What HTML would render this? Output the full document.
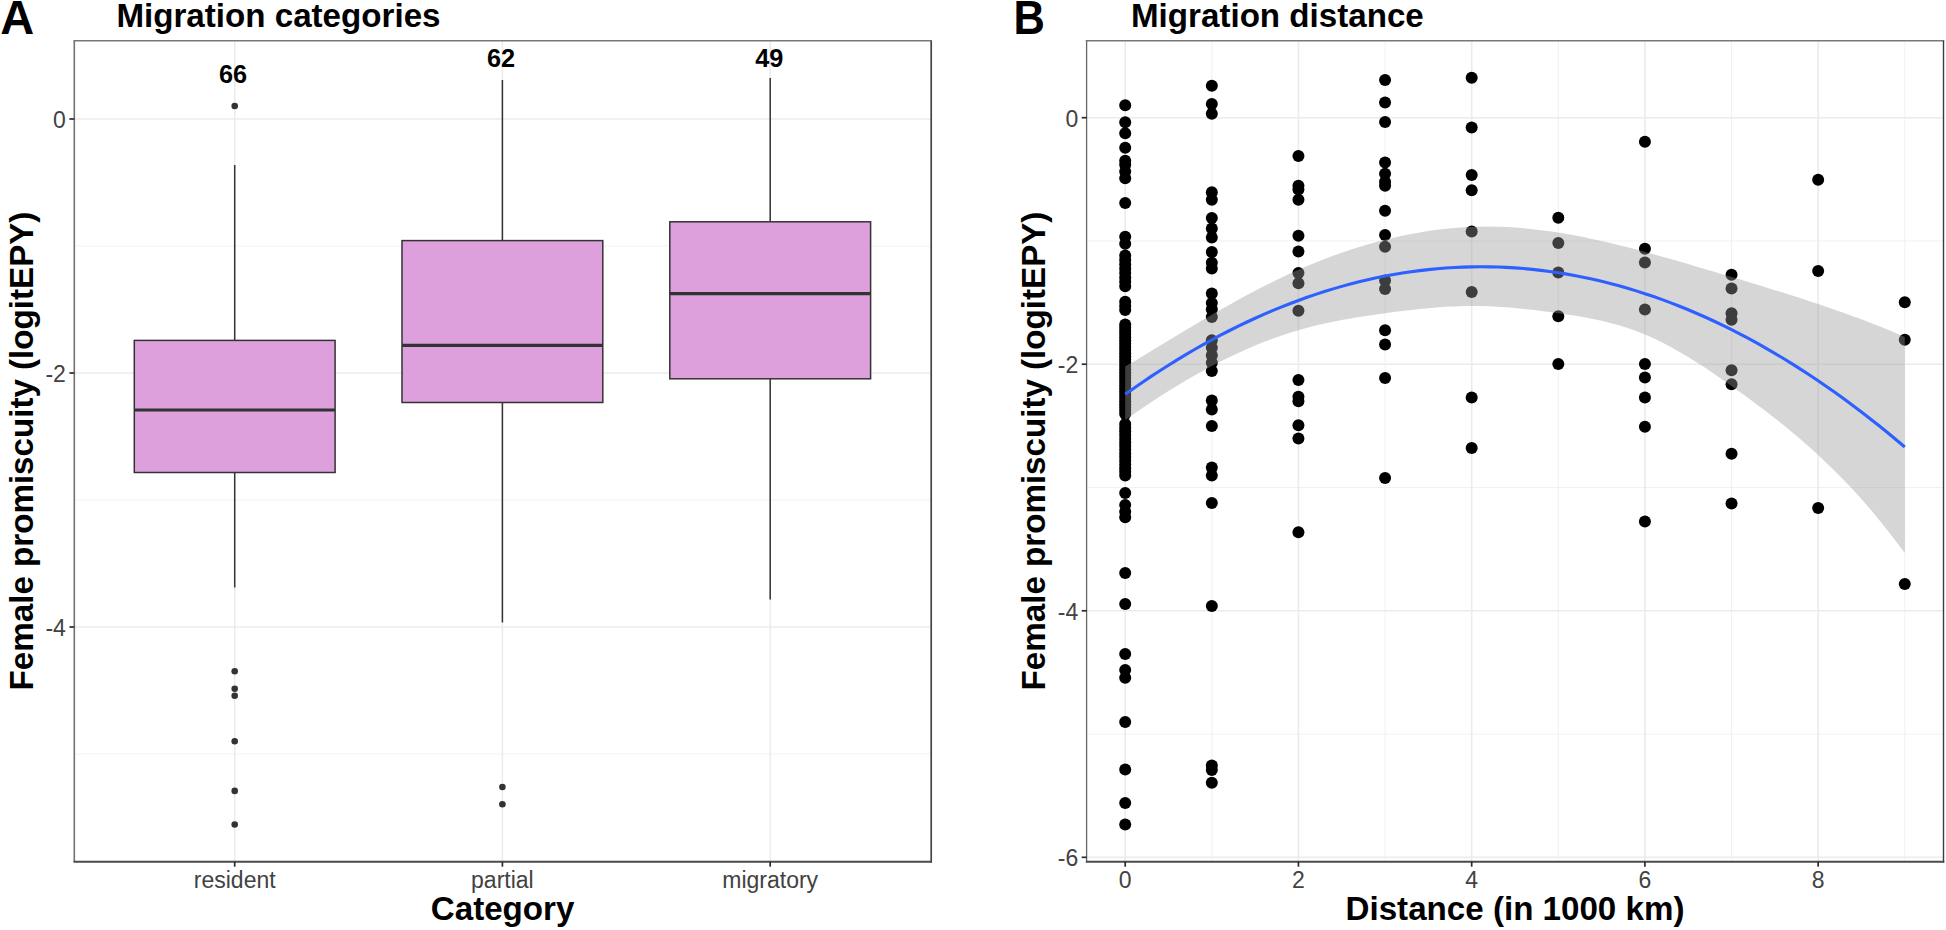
<!DOCTYPE html>
<html lang="en">
<head>
<meta charset="utf-8">
<title>Migration and female promiscuity</title>
<style>
html, body { margin: 0; padding: 0; background: #ffffff; }
body { width: 1946px; height: 930px; overflow: hidden; font-family: "Liberation Sans", sans-serif; }
svg { display: block; }
</style>
</head>
<body>
<svg width="1946" height="930" viewBox="0 0 1946 930" font-family='"Liberation Sans", sans-serif'>
<rect width="1946" height="930" fill="#ffffff"/>
<g id="panelA">
<rect x="74.3" y="40.75" width="856.9" height="821.05" fill="#ffffff"/>
<line x1="74.3" x2="931.2" y1="246" y2="246" stroke="#ebebeb" stroke-width="0.7"/>
<line x1="74.3" x2="931.2" y1="500" y2="500" stroke="#ebebeb" stroke-width="0.7"/>
<line x1="74.3" x2="931.2" y1="754" y2="754" stroke="#ebebeb" stroke-width="0.7"/>
<line x1="74.3" x2="931.2" y1="119" y2="119" stroke="#ebebeb" stroke-width="1.6"/>
<line x1="74.3" x2="931.2" y1="373" y2="373" stroke="#ebebeb" stroke-width="1.6"/>
<line x1="74.3" x2="931.2" y1="627" y2="627" stroke="#ebebeb" stroke-width="1.6"/>
<line x1="234.7" x2="234.7" y1="40.75" y2="861.8" stroke="#ebebeb" stroke-width="1.5"/>
<line x1="502.4" x2="502.4" y1="40.75" y2="861.8" stroke="#ebebeb" stroke-width="1.5"/>
<line x1="770.2" x2="770.2" y1="40.75" y2="861.8" stroke="#ebebeb" stroke-width="1.5"/>
<circle cx="234.7" cy="106" r="3.3" fill="#333333"/>
<circle cx="234.7" cy="671.3" r="3.3" fill="#333333"/>
<circle cx="234.7" cy="688.7" r="3.3" fill="#333333"/>
<circle cx="234.7" cy="695.8" r="3.3" fill="#333333"/>
<circle cx="234.7" cy="741.3" r="3.3" fill="#333333"/>
<circle cx="234.7" cy="790.9" r="3.3" fill="#333333"/>
<circle cx="234.7" cy="824.5" r="3.3" fill="#333333"/>
<line x1="234.7" x2="234.7" y1="165" y2="340.4" stroke="#333333" stroke-width="1.5"/>
<line x1="234.7" x2="234.7" y1="472.5" y2="587.5" stroke="#333333" stroke-width="1.5"/>
<rect x="134.3" y="340.4" width="200.8" height="132.1" fill="#dda0dd" stroke="#333333" stroke-width="1.5" stroke-linejoin="miter"/>
<line x1="134.3" x2="335.1" y1="410" y2="410" stroke="#333333" stroke-width="3.2"/>
<circle cx="502.4" cy="787" r="3.3" fill="#333333"/>
<circle cx="502.4" cy="804.2" r="3.3" fill="#333333"/>
<line x1="502.4" x2="502.4" y1="80" y2="240.6" stroke="#333333" stroke-width="1.5"/>
<line x1="502.4" x2="502.4" y1="402.5" y2="622.5" stroke="#333333" stroke-width="1.5"/>
<rect x="402" y="240.6" width="200.8" height="161.9" fill="#dda0dd" stroke="#333333" stroke-width="1.5" stroke-linejoin="miter"/>
<line x1="402" x2="602.8" y1="345.3" y2="345.3" stroke="#333333" stroke-width="3.2"/>
<line x1="770.2" x2="770.2" y1="78" y2="221.8" stroke="#333333" stroke-width="1.5"/>
<line x1="770.2" x2="770.2" y1="378.8" y2="599.5" stroke="#333333" stroke-width="1.5"/>
<rect x="669.8" y="221.8" width="200.8" height="157" fill="#dda0dd" stroke="#333333" stroke-width="1.5" stroke-linejoin="miter"/>
<line x1="669.8" x2="870.6" y1="293.6" y2="293.6" stroke="#333333" stroke-width="3.2"/>
<text x="233.1" y="83.2" font-size="25.3" font-weight="bold" text-anchor="middle" fill="#000000">66</text>
<text x="501" y="66.6" font-size="25.3" font-weight="bold" text-anchor="middle" fill="#000000">62</text>
<text x="769.2" y="66.6" font-size="25.3" font-weight="bold" text-anchor="middle" fill="#000000">49</text>
<line x1="73.5" x2="932" y1="40.75" y2="40.75" stroke="#787878" stroke-width="1.6"/>
<line x1="74.3" x2="74.3" y1="40.75" y2="861.8" stroke="#727272" stroke-width="1.6"/>
<line x1="931.2" x2="931.2" y1="40.75" y2="862.7" stroke="#454545" stroke-width="1.7"/>
<line x1="73.5" x2="932" y1="861.8" y2="861.8" stroke="#4a4a4a" stroke-width="1.9"/>
</g>
<g id="axesA">
<line x1="69.4" x2="74.3" y1="119" y2="119" stroke="#2b2b2b" stroke-width="1.7"/>
<text x="65.9" y="128.1" font-size="23.0" text-anchor="end" fill="#424242">0</text>
<line x1="69.4" x2="74.3" y1="373" y2="373" stroke="#2b2b2b" stroke-width="1.7"/>
<text x="65.9" y="382.1" font-size="23.0" text-anchor="end" fill="#424242">-2</text>
<line x1="69.4" x2="74.3" y1="627" y2="627" stroke="#2b2b2b" stroke-width="1.7"/>
<text x="65.9" y="636.1" font-size="23.0" text-anchor="end" fill="#424242">-4</text>
<line x1="234.7" x2="234.7" y1="861.8" y2="866.7" stroke="#2b2b2b" stroke-width="1.7"/>
<text x="234.7" y="887.5" font-size="23.0" text-anchor="middle" fill="#424242">resident</text>
<line x1="502.4" x2="502.4" y1="861.8" y2="866.7" stroke="#2b2b2b" stroke-width="1.7"/>
<text x="502.4" y="887.5" font-size="23.0" text-anchor="middle" fill="#424242">partial</text>
<line x1="770.2" x2="770.2" y1="861.8" y2="866.7" stroke="#2b2b2b" stroke-width="1.7"/>
<text x="770.2" y="887.5" font-size="23.0" text-anchor="middle" fill="#424242">migratory</text>
</g>
<text transform="translate(0.2,34.2) scale(1,1.03)" font-size="47" font-weight="bold" fill="#000000">A</text>
<text x="116.4" y="26.8" font-size="33.15" font-weight="bold" fill="#000000">Migration categories</text>
<text x="502.6" y="920" font-size="33.15" font-weight="bold" text-anchor="middle" fill="#000000">Category</text>
<text transform="translate(33,451) rotate(-90)" font-size="33.15" font-weight="bold" text-anchor="middle" fill="#000000">Female promiscuity (logitEPY)</text>
<g id="panelB">
<rect x="1086.6" y="40.75" width="856.9" height="821.05" fill="#ffffff"/>
<line x1="1086.6" x2="1943.5" y1="240.97" y2="240.97" stroke="#ebebeb" stroke-width="0.7"/>
<line x1="1086.6" x2="1943.5" y1="487.51" y2="487.51" stroke="#ebebeb" stroke-width="0.7"/>
<line x1="1086.6" x2="1943.5" y1="734.05" y2="734.05" stroke="#ebebeb" stroke-width="0.7"/>
<line x1="1211.82" x2="1211.82" y1="40.75" y2="861.8" stroke="#ebebeb" stroke-width="0.7"/>
<line x1="1385.06" x2="1385.06" y1="40.75" y2="861.8" stroke="#ebebeb" stroke-width="0.7"/>
<line x1="1558.3" x2="1558.3" y1="40.75" y2="861.8" stroke="#ebebeb" stroke-width="0.7"/>
<line x1="1731.54" x2="1731.54" y1="40.75" y2="861.8" stroke="#ebebeb" stroke-width="0.7"/>
<line x1="1904.78" x2="1904.78" y1="40.75" y2="861.8" stroke="#ebebeb" stroke-width="0.7"/>
<line x1="1086.6" x2="1943.5" y1="117.7" y2="117.7" stroke="#ebebeb" stroke-width="1.6"/>
<line x1="1086.6" x2="1943.5" y1="364.24" y2="364.24" stroke="#ebebeb" stroke-width="1.6"/>
<line x1="1086.6" x2="1943.5" y1="610.78" y2="610.78" stroke="#ebebeb" stroke-width="1.6"/>
<line x1="1086.6" x2="1943.5" y1="857.32" y2="857.32" stroke="#ebebeb" stroke-width="1.6"/>
<line x1="1125.2" x2="1125.2" y1="40.75" y2="861.8" stroke="#ebebeb" stroke-width="1.6"/>
<line x1="1298.44" x2="1298.44" y1="40.75" y2="861.8" stroke="#ebebeb" stroke-width="1.6"/>
<line x1="1471.68" x2="1471.68" y1="40.75" y2="861.8" stroke="#ebebeb" stroke-width="1.6"/>
<line x1="1644.92" x2="1644.92" y1="40.75" y2="861.8" stroke="#ebebeb" stroke-width="1.6"/>
<line x1="1818.16" x2="1818.16" y1="40.75" y2="861.8" stroke="#ebebeb" stroke-width="1.6"/>
<circle cx="1125.2" cy="105.2" r="6.0" fill="#000000"/>
<circle cx="1125.2" cy="122.3" r="6.0" fill="#000000"/>
<circle cx="1125.2" cy="133.2" r="6.0" fill="#000000"/>
<circle cx="1125.2" cy="147.8" r="6.0" fill="#000000"/>
<circle cx="1125.2" cy="160.8" r="6.0" fill="#000000"/>
<circle cx="1125.2" cy="164.8" r="6.0" fill="#000000"/>
<circle cx="1125.2" cy="171.6" r="6.0" fill="#000000"/>
<circle cx="1125.2" cy="178.3" r="6.0" fill="#000000"/>
<circle cx="1125.2" cy="203" r="6.0" fill="#000000"/>
<circle cx="1125.2" cy="236.8" r="6.0" fill="#000000"/>
<circle cx="1125.2" cy="243.8" r="6.0" fill="#000000"/>
<circle cx="1125.2" cy="255.5" r="6.0" fill="#000000"/>
<circle cx="1125.2" cy="259.89" r="6.0" fill="#000000"/>
<circle cx="1125.2" cy="264.27" r="6.0" fill="#000000"/>
<circle cx="1125.2" cy="268.66" r="6.0" fill="#000000"/>
<circle cx="1125.2" cy="273.04" r="6.0" fill="#000000"/>
<circle cx="1125.2" cy="277.43" r="6.0" fill="#000000"/>
<circle cx="1125.2" cy="281.81" r="6.0" fill="#000000"/>
<circle cx="1125.2" cy="286.2" r="6.0" fill="#000000"/>
<circle cx="1125.2" cy="301.8" r="6.0" fill="#000000"/>
<circle cx="1125.2" cy="306" r="6.0" fill="#000000"/>
<circle cx="1125.2" cy="310" r="6.0" fill="#000000"/>
<circle cx="1125.2" cy="324.5" r="6.0" fill="#000000"/>
<circle cx="1125.2" cy="327.7" r="6.0" fill="#000000"/>
<circle cx="1125.2" cy="330.89" r="6.0" fill="#000000"/>
<circle cx="1125.2" cy="334.09" r="6.0" fill="#000000"/>
<circle cx="1125.2" cy="337.29" r="6.0" fill="#000000"/>
<circle cx="1125.2" cy="340.48" r="6.0" fill="#000000"/>
<circle cx="1125.2" cy="343.68" r="6.0" fill="#000000"/>
<circle cx="1125.2" cy="346.88" r="6.0" fill="#000000"/>
<circle cx="1125.2" cy="350.07" r="6.0" fill="#000000"/>
<circle cx="1125.2" cy="353.27" r="6.0" fill="#000000"/>
<circle cx="1125.2" cy="356.46" r="6.0" fill="#000000"/>
<circle cx="1125.2" cy="359.66" r="6.0" fill="#000000"/>
<circle cx="1125.2" cy="362.86" r="6.0" fill="#000000"/>
<circle cx="1125.2" cy="366.05" r="6.0" fill="#000000"/>
<circle cx="1125.2" cy="369.25" r="6.0" fill="#000000"/>
<circle cx="1125.2" cy="372.45" r="6.0" fill="#000000"/>
<circle cx="1125.2" cy="375.64" r="6.0" fill="#000000"/>
<circle cx="1125.2" cy="378.84" r="6.0" fill="#000000"/>
<circle cx="1125.2" cy="382.04" r="6.0" fill="#000000"/>
<circle cx="1125.2" cy="385.23" r="6.0" fill="#000000"/>
<circle cx="1125.2" cy="388.43" r="6.0" fill="#000000"/>
<circle cx="1125.2" cy="391.62" r="6.0" fill="#000000"/>
<circle cx="1125.2" cy="394.82" r="6.0" fill="#000000"/>
<circle cx="1125.2" cy="398.02" r="6.0" fill="#000000"/>
<circle cx="1125.2" cy="401.21" r="6.0" fill="#000000"/>
<circle cx="1125.2" cy="404.41" r="6.0" fill="#000000"/>
<circle cx="1125.2" cy="407.61" r="6.0" fill="#000000"/>
<circle cx="1125.2" cy="410.8" r="6.0" fill="#000000"/>
<circle cx="1125.2" cy="414" r="6.0" fill="#000000"/>
<circle cx="1125.2" cy="424" r="6.0" fill="#000000"/>
<circle cx="1125.2" cy="427.68" r="6.0" fill="#000000"/>
<circle cx="1125.2" cy="431.36" r="6.0" fill="#000000"/>
<circle cx="1125.2" cy="435.04" r="6.0" fill="#000000"/>
<circle cx="1125.2" cy="438.71" r="6.0" fill="#000000"/>
<circle cx="1125.2" cy="442.39" r="6.0" fill="#000000"/>
<circle cx="1125.2" cy="446.07" r="6.0" fill="#000000"/>
<circle cx="1125.2" cy="449.75" r="6.0" fill="#000000"/>
<circle cx="1125.2" cy="453.43" r="6.0" fill="#000000"/>
<circle cx="1125.2" cy="457.11" r="6.0" fill="#000000"/>
<circle cx="1125.2" cy="460.79" r="6.0" fill="#000000"/>
<circle cx="1125.2" cy="464.46" r="6.0" fill="#000000"/>
<circle cx="1125.2" cy="468.14" r="6.0" fill="#000000"/>
<circle cx="1125.2" cy="471.82" r="6.0" fill="#000000"/>
<circle cx="1125.2" cy="475.5" r="6.0" fill="#000000"/>
<circle cx="1125.2" cy="493" r="6.0" fill="#000000"/>
<circle cx="1125.2" cy="505" r="6.0" fill="#000000"/>
<circle cx="1125.2" cy="511.8" r="6.0" fill="#000000"/>
<circle cx="1125.2" cy="517.2" r="6.0" fill="#000000"/>
<circle cx="1125.2" cy="573" r="6.0" fill="#000000"/>
<circle cx="1125.2" cy="603.9" r="6.0" fill="#000000"/>
<circle cx="1125.2" cy="653.9" r="6.0" fill="#000000"/>
<circle cx="1125.2" cy="670" r="6.0" fill="#000000"/>
<circle cx="1125.2" cy="677.8" r="6.0" fill="#000000"/>
<circle cx="1125.2" cy="722" r="6.0" fill="#000000"/>
<circle cx="1125.2" cy="769.5" r="6.0" fill="#000000"/>
<circle cx="1125.2" cy="802.9" r="6.0" fill="#000000"/>
<circle cx="1125.2" cy="824.6" r="6.0" fill="#000000"/>
<circle cx="1211.82" cy="85.8" r="6.0" fill="#000000"/>
<circle cx="1211.82" cy="104" r="6.0" fill="#000000"/>
<circle cx="1211.82" cy="113.8" r="6.0" fill="#000000"/>
<circle cx="1211.82" cy="192.3" r="6.0" fill="#000000"/>
<circle cx="1211.82" cy="199.8" r="6.0" fill="#000000"/>
<circle cx="1211.82" cy="218.1" r="6.0" fill="#000000"/>
<circle cx="1211.82" cy="228.5" r="6.0" fill="#000000"/>
<circle cx="1211.82" cy="237.6" r="6.0" fill="#000000"/>
<circle cx="1211.82" cy="252" r="6.0" fill="#000000"/>
<circle cx="1211.82" cy="262.8" r="6.0" fill="#000000"/>
<circle cx="1211.82" cy="268.4" r="6.0" fill="#000000"/>
<circle cx="1211.82" cy="293.5" r="6.0" fill="#000000"/>
<circle cx="1211.82" cy="303" r="6.0" fill="#000000"/>
<circle cx="1211.82" cy="309.3" r="6.0" fill="#000000"/>
<circle cx="1211.82" cy="316.9" r="6.0" fill="#000000"/>
<circle cx="1211.82" cy="340.2" r="6.0" fill="#000000"/>
<circle cx="1211.82" cy="347.7" r="6.0" fill="#000000"/>
<circle cx="1211.82" cy="355.3" r="6.0" fill="#000000"/>
<circle cx="1211.82" cy="362.8" r="6.0" fill="#000000"/>
<circle cx="1211.82" cy="371" r="6.0" fill="#000000"/>
<circle cx="1211.82" cy="400.5" r="6.0" fill="#000000"/>
<circle cx="1211.82" cy="409.4" r="6.0" fill="#000000"/>
<circle cx="1211.82" cy="426" r="6.0" fill="#000000"/>
<circle cx="1211.82" cy="467.4" r="6.0" fill="#000000"/>
<circle cx="1211.82" cy="475.5" r="6.0" fill="#000000"/>
<circle cx="1211.82" cy="502.9" r="6.0" fill="#000000"/>
<circle cx="1211.82" cy="606" r="6.0" fill="#000000"/>
<circle cx="1211.82" cy="765.5" r="6.0" fill="#000000"/>
<circle cx="1211.82" cy="770" r="6.0" fill="#000000"/>
<circle cx="1211.82" cy="782.8" r="6.0" fill="#000000"/>
<circle cx="1298.44" cy="156" r="6.0" fill="#000000"/>
<circle cx="1298.44" cy="185.8" r="6.0" fill="#000000"/>
<circle cx="1298.44" cy="189.6" r="6.0" fill="#000000"/>
<circle cx="1298.44" cy="199.8" r="6.0" fill="#000000"/>
<circle cx="1298.44" cy="235.8" r="6.0" fill="#000000"/>
<circle cx="1298.44" cy="251.6" r="6.0" fill="#000000"/>
<circle cx="1298.44" cy="273" r="6.0" fill="#000000"/>
<circle cx="1298.44" cy="283.2" r="6.0" fill="#000000"/>
<circle cx="1298.44" cy="310.8" r="6.0" fill="#000000"/>
<circle cx="1298.44" cy="380" r="6.0" fill="#000000"/>
<circle cx="1298.44" cy="396.8" r="6.0" fill="#000000"/>
<circle cx="1298.44" cy="401.3" r="6.0" fill="#000000"/>
<circle cx="1298.44" cy="425.2" r="6.0" fill="#000000"/>
<circle cx="1298.44" cy="438.6" r="6.0" fill="#000000"/>
<circle cx="1298.44" cy="532.3" r="6.0" fill="#000000"/>
<circle cx="1385.06" cy="80.1" r="6.0" fill="#000000"/>
<circle cx="1385.06" cy="102.4" r="6.0" fill="#000000"/>
<circle cx="1385.06" cy="122" r="6.0" fill="#000000"/>
<circle cx="1385.06" cy="162.4" r="6.0" fill="#000000"/>
<circle cx="1385.06" cy="173.7" r="6.0" fill="#000000"/>
<circle cx="1385.06" cy="181.7" r="6.0" fill="#000000"/>
<circle cx="1385.06" cy="185.8" r="6.0" fill="#000000"/>
<circle cx="1385.06" cy="210.8" r="6.0" fill="#000000"/>
<circle cx="1385.06" cy="235" r="6.0" fill="#000000"/>
<circle cx="1385.06" cy="246.8" r="6.0" fill="#000000"/>
<circle cx="1385.06" cy="280.4" r="6.0" fill="#000000"/>
<circle cx="1385.06" cy="289" r="6.0" fill="#000000"/>
<circle cx="1385.06" cy="330.3" r="6.0" fill="#000000"/>
<circle cx="1385.06" cy="344.4" r="6.0" fill="#000000"/>
<circle cx="1385.06" cy="378.1" r="6.0" fill="#000000"/>
<circle cx="1385.06" cy="478.1" r="6.0" fill="#000000"/>
<circle cx="1471.68" cy="77.7" r="6.0" fill="#000000"/>
<circle cx="1471.68" cy="127.4" r="6.0" fill="#000000"/>
<circle cx="1471.68" cy="175" r="6.0" fill="#000000"/>
<circle cx="1471.68" cy="190.3" r="6.0" fill="#000000"/>
<circle cx="1471.68" cy="231.5" r="6.0" fill="#000000"/>
<circle cx="1471.68" cy="292" r="6.0" fill="#000000"/>
<circle cx="1471.68" cy="397.5" r="6.0" fill="#000000"/>
<circle cx="1471.68" cy="448" r="6.0" fill="#000000"/>
<circle cx="1558.3" cy="217.7" r="6.0" fill="#000000"/>
<circle cx="1558.3" cy="243" r="6.0" fill="#000000"/>
<circle cx="1558.3" cy="272.6" r="6.0" fill="#000000"/>
<circle cx="1558.3" cy="316.3" r="6.0" fill="#000000"/>
<circle cx="1558.3" cy="363.9" r="6.0" fill="#000000"/>
<circle cx="1644.92" cy="141.7" r="6.0" fill="#000000"/>
<circle cx="1644.92" cy="248.8" r="6.0" fill="#000000"/>
<circle cx="1644.92" cy="262.5" r="6.0" fill="#000000"/>
<circle cx="1644.92" cy="309.4" r="6.0" fill="#000000"/>
<circle cx="1644.92" cy="364" r="6.0" fill="#000000"/>
<circle cx="1644.92" cy="377.6" r="6.0" fill="#000000"/>
<circle cx="1644.92" cy="397.6" r="6.0" fill="#000000"/>
<circle cx="1644.92" cy="426.8" r="6.0" fill="#000000"/>
<circle cx="1644.92" cy="521.4" r="6.0" fill="#000000"/>
<circle cx="1731.54" cy="274.8" r="6.0" fill="#000000"/>
<circle cx="1731.54" cy="288.4" r="6.0" fill="#000000"/>
<circle cx="1731.54" cy="313.3" r="6.0" fill="#000000"/>
<circle cx="1731.54" cy="319.7" r="6.0" fill="#000000"/>
<circle cx="1731.54" cy="370.2" r="6.0" fill="#000000"/>
<circle cx="1731.54" cy="384.2" r="6.0" fill="#000000"/>
<circle cx="1731.54" cy="453.7" r="6.0" fill="#000000"/>
<circle cx="1731.54" cy="503.4" r="6.0" fill="#000000"/>
<circle cx="1818.16" cy="179.8" r="6.0" fill="#000000"/>
<circle cx="1818.16" cy="271" r="6.0" fill="#000000"/>
<circle cx="1818.16" cy="508" r="6.0" fill="#000000"/>
<circle cx="1904.78" cy="302.2" r="6.0" fill="#000000"/>
<circle cx="1904.78" cy="339.7" r="6.0" fill="#000000"/>
<circle cx="1904.78" cy="583.9" r="6.0" fill="#000000"/>
<polygon points="1125.2,366.6 1133.86,361.41 1142.52,356.2 1151.19,350.97 1159.85,345.74 1168.51,340.51 1177.17,335.3 1185.83,330.11 1194.5,324.96 1203.16,319.85 1211.82,314.8 1220.48,309.82 1229.14,304.91 1237.81,300.09 1246.47,295.37 1255.13,290.76 1263.79,286.27 1272.45,281.91 1281.12,277.69 1289.78,273.61 1298.44,269.7 1307.1,265.96 1315.76,262.38 1324.43,258.98 1333.09,255.74 1341.75,252.67 1350.41,249.77 1359.07,247.03 1367.74,244.46 1376.4,242.05 1385.06,239.8 1393.72,237.71 1402.38,235.79 1411.05,234.04 1419.71,232.47 1428.37,231.07 1437.03,229.85 1445.69,228.82 1454.36,227.99 1463.02,227.34 1471.68,226.9 1480.34,226.66 1489,226.61 1497.67,226.76 1506.33,227.09 1514.99,227.6 1523.65,228.28 1532.31,229.13 1540.98,230.14 1549.64,231.29 1558.3,232.6 1566.96,234.05 1575.62,235.62 1584.29,237.32 1592.95,239.13 1601.61,241.05 1610.27,243.06 1618.93,245.16 1627.6,247.34 1636.26,249.59 1644.92,251.9 1653.58,254.26 1662.24,256.67 1670.91,259.12 1679.57,261.6 1688.23,264.12 1696.89,266.66 1705.55,269.23 1714.22,271.81 1722.88,274.4 1731.54,277 1740.2,279.6 1748.86,282.21 1757.53,284.83 1766.19,287.46 1774.85,290.13 1783.51,292.82 1792.17,295.55 1800.84,298.31 1809.5,301.13 1818.16,304 1826.82,306.93 1835.48,309.92 1844.15,312.99 1852.81,316.13 1861.47,319.35 1870.13,322.66 1878.79,326.06 1887.46,329.57 1896.12,333.18 1904.78,336.9 1904.78,553.1 1896.12,541.39 1887.46,530.15 1878.79,519.38 1870.13,509.04 1861.47,499.11 1852.81,489.58 1844.15,480.43 1835.48,471.63 1826.82,463.16 1818.16,455 1809.5,447.13 1800.84,439.54 1792.17,432.19 1783.51,425.07 1774.85,418.16 1766.19,411.44 1757.53,404.88 1748.86,398.47 1740.2,392.18 1731.54,386 1722.88,379.91 1714.22,373.93 1705.55,368.11 1696.89,362.47 1688.23,357.05 1679.57,351.88 1670.91,347 1662.24,342.43 1653.58,338.22 1644.92,334.4 1636.26,330.99 1627.6,327.96 1618.93,325.28 1610.27,322.91 1601.61,320.81 1592.95,318.96 1584.29,317.31 1575.62,315.82 1566.96,314.46 1558.3,313.2 1549.64,312 1540.98,310.88 1532.31,309.83 1523.65,308.89 1514.99,308.05 1506.33,307.34 1497.67,306.76 1489,306.34 1480.34,306.08 1471.68,306 1463.02,306.1 1454.36,306.39 1445.69,306.83 1437.03,307.42 1428.37,308.14 1419.71,308.98 1411.05,309.92 1402.38,310.94 1393.72,312.04 1385.06,313.2 1376.4,314.41 1367.74,315.67 1359.07,317.02 1350.41,318.46 1341.75,320.02 1333.09,321.72 1324.43,323.56 1315.76,325.58 1307.1,327.79 1298.44,330.2 1289.78,332.84 1281.12,335.69 1272.45,338.77 1263.79,342.06 1255.13,345.55 1246.47,349.25 1237.81,353.15 1229.14,357.24 1220.48,361.53 1211.82,366 1203.16,370.65 1194.5,375.48 1185.83,380.49 1177.17,385.66 1168.51,391 1159.85,396.5 1151.19,402.15 1142.52,407.95 1133.86,413.91 1125.2,420" fill="#999999" fill-opacity="0.4"/>
<path d="M1125.2,394.33 L1133.86,388.2 L1142.52,382.22 L1151.19,376.4 L1159.85,370.72 L1168.51,365.2 L1177.17,359.82 L1185.83,354.6 L1194.5,349.53 L1203.16,344.61 L1211.82,339.83 L1220.48,335.21 L1229.14,330.75 L1237.81,326.43 L1246.47,322.26 L1255.13,318.24 L1263.79,314.38 L1272.45,310.66 L1281.12,307.1 L1289.78,303.69 L1298.44,300.43 L1307.1,297.32 L1315.76,294.36 L1324.43,291.55 L1333.09,288.89 L1341.75,286.38 L1350.41,284.02 L1359.07,281.82 L1367.74,279.76 L1376.4,277.86 L1385.06,276.1 L1393.72,274.5 L1402.38,273.05 L1411.05,271.75 L1419.71,270.6 L1428.37,269.6 L1437.03,268.75 L1445.69,268.06 L1454.36,267.51 L1463.02,267.11 L1471.68,266.87 L1480.34,266.78 L1489,266.83 L1497.67,267.04 L1506.33,267.4 L1514.99,267.91 L1523.65,268.57 L1532.31,269.38 L1540.98,270.34 L1549.64,271.46 L1558.3,272.72 L1566.96,274.13 L1575.62,275.7 L1584.29,277.42 L1592.95,279.28 L1601.61,281.3 L1610.27,283.47 L1618.93,285.79 L1627.6,288.26 L1636.26,290.88 L1644.92,293.66 L1653.58,296.58 L1662.24,299.66 L1670.91,302.88 L1679.57,306.26 L1688.23,309.78 L1696.89,313.46 L1705.55,317.29 L1714.22,321.27 L1722.88,325.4 L1731.54,329.68 L1740.2,334.11 L1748.86,338.7 L1757.53,343.43 L1766.19,348.31 L1774.85,353.35 L1783.51,358.54 L1792.17,363.87 L1800.84,369.36 L1809.5,375 L1818.16,380.79 L1826.82,386.73 L1835.48,392.82 L1844.15,399.07 L1852.81,405.46 L1861.47,412 L1870.13,418.7 L1878.79,425.54 L1887.46,432.54 L1896.12,439.69 L1904.78,446.99" fill="none" stroke="#2e60ff" stroke-width="3.1" stroke-linecap="butt" stroke-linejoin="round"/>
<line x1="1085.8" x2="1944.3" y1="40.75" y2="40.75" stroke="#787878" stroke-width="1.6"/>
<line x1="1086.6" x2="1086.6" y1="40.75" y2="861.8" stroke="#666666" stroke-width="1.3"/>
<line x1="1943.5" x2="1943.5" y1="40.75" y2="862.7" stroke="#3c3c3c" stroke-width="1.4"/>
<line x1="1085.8" x2="1944.3" y1="861.8" y2="861.8" stroke="#4a4a4a" stroke-width="1.9"/>
</g>
<g id="axesB">
<line x1="1081.7" x2="1086.6" y1="117.7" y2="117.7" stroke="#2b2b2b" stroke-width="1.7"/>
<text x="1078.2" y="126.8" font-size="23.0" text-anchor="end" fill="#424242">0</text>
<line x1="1081.7" x2="1086.6" y1="364.24" y2="364.24" stroke="#2b2b2b" stroke-width="1.7"/>
<text x="1078.2" y="373.34" font-size="23.0" text-anchor="end" fill="#424242">-2</text>
<line x1="1081.7" x2="1086.6" y1="610.78" y2="610.78" stroke="#2b2b2b" stroke-width="1.7"/>
<text x="1078.2" y="619.88" font-size="23.0" text-anchor="end" fill="#424242">-4</text>
<line x1="1081.7" x2="1086.6" y1="857.32" y2="857.32" stroke="#2b2b2b" stroke-width="1.7"/>
<text x="1078.2" y="866.42" font-size="23.0" text-anchor="end" fill="#424242">-6</text>
<line x1="1125.2" x2="1125.2" y1="861.8" y2="866.7" stroke="#2b2b2b" stroke-width="1.7"/>
<text x="1125.2" y="887.5" font-size="23.0" text-anchor="middle" fill="#424242">0</text>
<line x1="1298.44" x2="1298.44" y1="861.8" y2="866.7" stroke="#2b2b2b" stroke-width="1.7"/>
<text x="1298.44" y="887.5" font-size="23.0" text-anchor="middle" fill="#424242">2</text>
<line x1="1471.68" x2="1471.68" y1="861.8" y2="866.7" stroke="#2b2b2b" stroke-width="1.7"/>
<text x="1471.68" y="887.5" font-size="23.0" text-anchor="middle" fill="#424242">4</text>
<line x1="1644.92" x2="1644.92" y1="861.8" y2="866.7" stroke="#2b2b2b" stroke-width="1.7"/>
<text x="1644.92" y="887.5" font-size="23.0" text-anchor="middle" fill="#424242">6</text>
<line x1="1818.16" x2="1818.16" y1="861.8" y2="866.7" stroke="#2b2b2b" stroke-width="1.7"/>
<text x="1818.16" y="887.5" font-size="23.0" text-anchor="middle" fill="#424242">8</text>
</g>
<text transform="translate(1013.4,34.2) scale(0.925,1.03)" font-size="47" font-weight="bold" fill="#000000">B</text>
<text x="1131" y="26.8" font-size="33.15" font-weight="bold" fill="#000000">Migration distance</text>
<text x="1515" y="920" font-size="33.15" font-weight="bold" text-anchor="middle" fill="#000000">Distance (in 1000 km)</text>
<text transform="translate(1045,451) rotate(-90)" font-size="33.15" font-weight="bold" text-anchor="middle" fill="#000000">Female promiscuity (logitEPY)</text>
</svg>
</body>
</html>
